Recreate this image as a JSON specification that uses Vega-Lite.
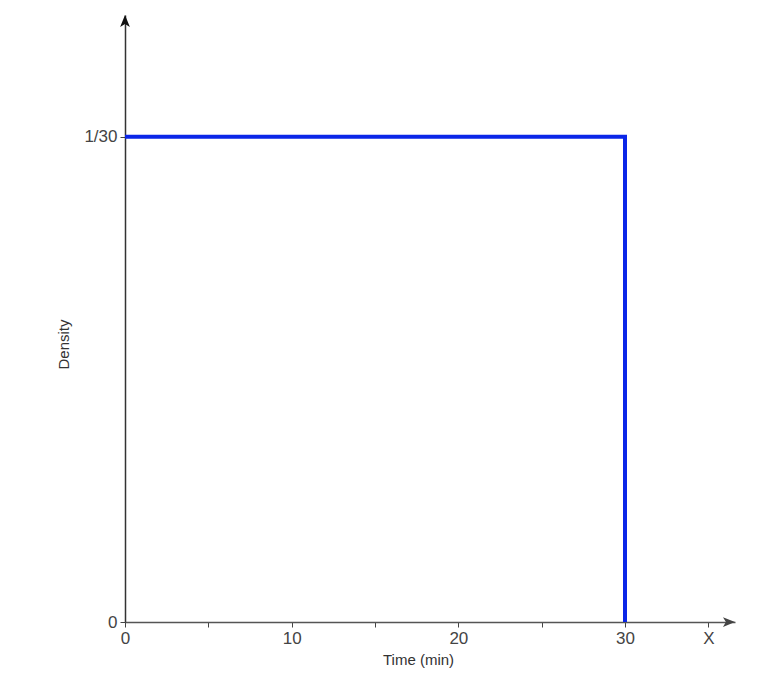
{
  "$schema": "https://vega.github.io/schema/vega-lite/v6.json",
  "width": 610,
  "height": 607,
  "autosize": "none",
  "padding": {"left": 125, "top": 15, "right": 49, "bottom": 72},
  "config": {"view": {"stroke": null}, "font": "Liberation Sans"},
  "layer": [
    {
      "data": {"values": [
        {"t": 0, "d": 0.0333333},
        {"t": 30, "d": 0.0333333},
        {"t": 30, "d": 0}
      ]},
      "mark": {"type": "line", "color": "#0a26e8", "strokeWidth": 4, "strokeCap": "butt", "strokeJoin": "miter", "clip": false},
      "encoding": {
        "x": {"field": "t", "type": "quantitative", "scale": {"domain": [0, 36.6], "nice": false, "zero": false},
          "axis": {"values": [0, 5, 10, 15, 20, 25, 30, 35], "labelExpr": "datum.value == 35 ? 'X' : (datum.value % 10 == 0 ? datum.label : '')",
            "title": "Time (min)", "titleFontSize": 15, "titleFontWeight": "normal", "titleColor": "#333", "titlePadding": 6, "titleX": 293,
            "labelFontSize": 17, "labelColor": "#444", "labelPadding": 3, "tickSize": 5, "tickColor": "#444", "domainColor": "#555", "domainWidth": 1.5, "grid": false, "labelFlush": false, "labelOverlap": false}},
        "y": {"field": "d", "type": "quantitative", "scale": {"domain": [0, 0.0417], "nice": false},
          "axis": {"values": [0, 0.0333333], "labelExpr": "datum.value == 0 ? '0' : '1/30'",
            "title": "Density", "titleFontSize": 15, "titleFontWeight": "normal", "titleColor": "#333", "titlePadding": 12, "titleY": 329,
            "labelFontSize": 17, "labelColor": "#444", "labelPadding": 3, "tickSize": 5, "tickColor": "#444", "domainColor": "#333", "domainWidth": 1.5, "grid": false, "labelFlush": false, "labelOverlap": false}},
        "order": {"field": "t", "type": "quantitative"}
      }
    },
    {
      "data": {"values": [{"t": 0, "d": 0.0417}]},
      "mark": {"type": "point", "shape": "M0,0 L0.75,1.85 L0,1.4 L-0.75,1.85 Z", "size": 169, "filled": true, "color": "#111", "opacity": 1, "clip": false},
      "encoding": {
        "x": {"field": "t", "type": "quantitative"},
        "y": {"field": "d", "type": "quantitative"}
      }
    },
    {
      "data": {"values": [{"t": 36.6, "d": 0}]},
      "mark": {"type": "point", "shape": "M0,0 L-1.85,-0.75 L-1.4,0 L-1.85,0.75 Z", "size": 169, "filled": true, "color": "#444", "opacity": 1, "clip": false},
      "encoding": {
        "x": {"field": "t", "type": "quantitative"},
        "y": {"field": "d", "type": "quantitative"}
      }
    }
  ]
}
